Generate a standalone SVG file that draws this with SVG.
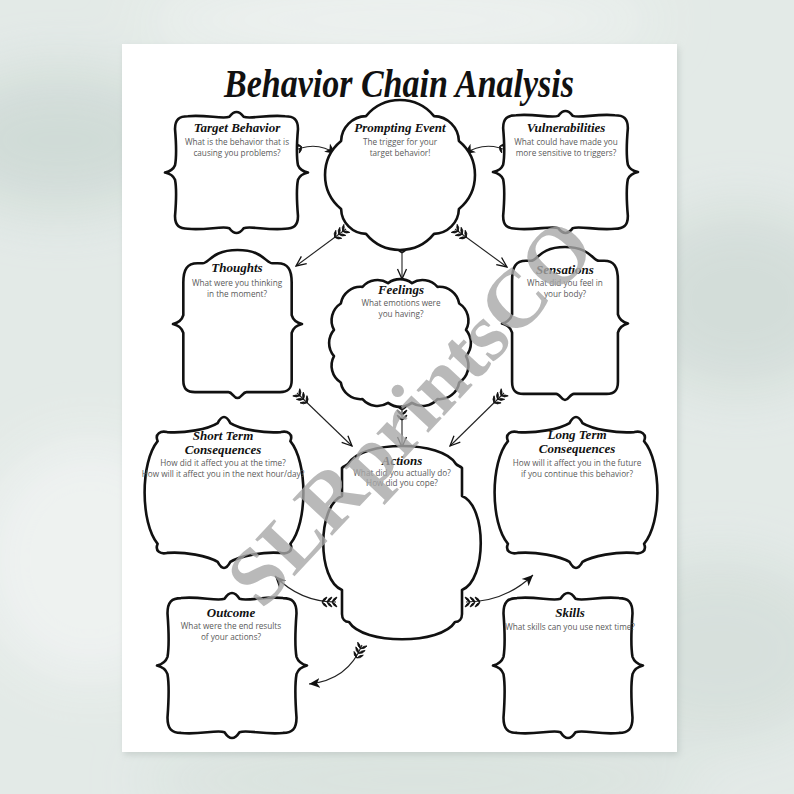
<svg xmlns="http://www.w3.org/2000/svg" width="794" height="794" viewBox="0 0 794 794">
<defs>
<style>
.ttl{font-family:"Liberation Serif","DejaVu Serif",serif;font-style:italic;font-weight:bold;font-size:13px;fill:#111;text-anchor:middle}
.sub{font-family:"Open Sans","Liberation Sans",sans-serif;font-size:8.2px;fill:#5a5a5a;text-anchor:middle}
.shape{fill:#fff;stroke:#111;stroke-width:2.6;stroke-linejoin:round}
.conn path{fill:none;stroke:#222;stroke-width:1.1}
</style>
<filter id="blur" x="-50%" y="-50%" width="200%" height="200%"><feGaussianBlur stdDeviation="28"/></filter>
<filter id="shadow" x="-5%" y="-5%" width="110%" height="110%"><feGaussianBlur stdDeviation="3"/></filter>
<path id="frameA" fill="#fff" stroke="#111" stroke-width="2.6" stroke-linejoin="round" vector-effect="non-scaling-stroke" d="M7,14 C7,6 10,3.5 16,3.5 C28,2 40,6 45,4 Q50,-4 55,4 C60,6 72,2 84,3.5 C90,3.5 93,6 93,14 C92,28 92,38 93,44 C94,47 96,49 100,50 C96,51 94,53 93,56 C92,62 92,72 93,86 C93,94 90,96.5 84,96.5 C72,98 60,94 55,96 Q50,104 45,96 C40,94 28,98 16,96.5 C10,96.5 7,94 7,86 C8,72 8,62 7,56 C6,53 4,51 0,50 C4,49 6,47 7,44 C8,38 8,28 7,14 Z"/>
<path id="frameT" fill="#fff" stroke="#111" stroke-width="2.6" stroke-linejoin="round" vector-effect="non-scaling-stroke" d="M8,22 C8,13 11,9 19,9 L23,9 C28,9 30,0 50,0 C70,0 72,9 77,9 L81,9 C89,9 92,13 92,22 L92,44 C93,47 95,49 100,50 C95,51 93,53 92,56 L92,88 C92,94 89,96 83,96 L57,96 C54,96 53,100 50,100 C47,100 46,96 43,96 L17,96 C11,96 8,94 8,88 L8,56 C7,53 5,51 0,50 C5,49 7,47 8,44 Z"/>
<path id="frameC" fill="#fff" stroke="#111" stroke-width="2.6" stroke-linejoin="round" vector-effect="non-scaling-stroke" d="M14,10 C25,11 40,8 46,4 Q50,-4 54,4 C60,8 75,11 86,10 C90,9 94,11 92,16 C103,30 103,70 92,84 C94,89 90,91 86,90 C75,89 60,92 54,96 Q50,104 46,96 C40,92 25,89 14,90 C10,91 6,89 8,84 C-3,70 -3,30 8,16 C6,11 10,9 14,10 Z"/>
<marker id="headOpen" viewBox="0 0 12 12" refX="11" refY="6" markerWidth="12" markerHeight="12" orient="auto" markerUnits="userSpaceOnUse">
<path d="M1,1.5 L11,6 L1,10.5" fill="none" stroke="#111" stroke-width="1.3"/>
</marker>
<marker id="headFill" viewBox="0 0 12 12" refX="11" refY="6" markerWidth="12" markerHeight="12" orient="auto" markerUnits="userSpaceOnUse">
<path d="M0,1 L11,6 L0,11 L3,6 Z" fill="#111"/>
</marker>
<marker id="fletch" viewBox="-6 -8 24 16" refX="0" refY="0" markerWidth="24" markerHeight="16" orient="auto" markerUnits="userSpaceOnUse">
<path d="M4,0 Q3,-4 -1,-5 Q0,-1.5 4,0 Z M4,0 Q3,4 -1,5 Q0,1.5 4,0 Z M9,0 Q8,-4 4,-5 Q5,-1.5 9,0 Z M9,0 Q8,4 4,5 Q5,1.5 9,0 Z M14,0 Q13,-4 9,-5 Q10,-1.5 14,0 Z M14,0 Q13,4 9,5 Q10,1.5 14,0 Z" fill="#111" stroke="#111" stroke-width="0.8"/>
</marker>
</defs>

<rect x="0" y="0" width="794" height="794" fill="#e3eae7"/>
<g filter="url(#blur)" opacity="0.9">
<ellipse cx="60" cy="140" rx="120" ry="70" fill="#cfdad6"/>
<ellipse cx="740" cy="300" rx="110" ry="90" fill="#d2dcd8"/>
<ellipse cx="90" cy="560" rx="110" ry="120" fill="#f0f3f2"/>
<ellipse cx="720" cy="650" rx="120" ry="90" fill="#d6dfdb"/>
<ellipse cx="400" cy="20" rx="260" ry="40" fill="#eef2f0"/>
<ellipse cx="420" cy="780" rx="280" ry="40" fill="#d8e1dd"/>
</g>
<rect x="124" y="47" width="555" height="708" fill="#9aa5a1" opacity="0.35" filter="url(#shadow)"/>
<rect x="122" y="44" width="555" height="708" fill="#ffffff"/>

<text x="399" y="97" font-family="Liberation Serif, DejaVu Serif, serif" font-style="italic" font-weight="bold" font-size="40" fill="#111" text-anchor="middle" textLength="350" lengthAdjust="spacingAndGlyphs">Behavior Chain Analysis</text>

<g id="connectors" class="conn">
<path d="M289,153 Q315,139 336,154" marker-start="url(#fletch)" marker-end="url(#headFill)"/>
<path d="M512,153 Q487,139 464,154" marker-start="url(#fletch)" marker-end="url(#headFill)"/>
<path d="M346,229 L296,266" marker-start="url(#fletch)" marker-end="url(#headOpen)"/>
<path d="M455,229 L507,267" marker-start="url(#fletch)" marker-end="url(#headOpen)"/>
<path d="M402,239 L402,279" marker-start="url(#fletch)" marker-end="url(#headOpen)"/>
<path d="M297,393 L352,446" marker-start="url(#fletch)" marker-end="url(#headOpen)"/>
<path d="M504,393 L450,446" marker-start="url(#fletch)" marker-end="url(#headOpen)"/>
<path d="M402,406 L402,447" marker-start="url(#fletch)" marker-end="url(#headOpen)"/>
<path d="M336,602 Q300,602 275,576" marker-start="url(#fletch)" marker-end="url(#headFill)"/>
<path d="M362,645 Q348,680 309,684" marker-start="url(#fletch)" marker-end="url(#headFill)"/>
<path d="M466,602 Q505,602 533,575" marker-start="url(#fletch)" marker-end="url(#headFill)"/>
</g>

<g id="target-behavior">
<use href="#frameA" transform="translate(165,112) scale(1.43,1.21)"/>
<text class="ttl" x="237" y="132">Target Behavior</text>
<text class="sub" x="237" y="145">What is the behavior that is</text>
<text class="sub" x="237" y="155.5">causing you problems?</text>
</g>

<g id="prompting-event">
<path class="shape" d="M458.9,141 A44 44 0 0 1 458.9,209 A25.6 25.6 0 0 1 434,233.9 A44 44 0 0 1 366,233.9 A25.6 25.6 0 0 1 341.1,209 A44 44 0 0 1 341.1,141 A25.6 25.6 0 0 1 366,116.1 A44 44 0 0 1 434,116.1 A25.6 25.6 0 0 1 458.9,141 Z"/>
<text class="ttl" x="400" y="132">Prompting Event</text>
<text class="sub" x="400" y="145">The trigger for your</text>
<text class="sub" x="400" y="156">target behavior!</text>
</g>

<g id="vulnerabilities">
<use href="#frameA" transform="translate(493,111) scale(1.45,1.22)"/>
<text class="ttl" x="566" y="132">Vulnerabilities</text>
<text class="sub" x="566" y="145">What could have made you</text>
<text class="sub" x="566" y="155.5">more sensitive to triggers?</text>
</g>

<g id="thoughts">
<use href="#frameT" transform="translate(173,250) scale(1.29,1.48)"/>
<text class="ttl" x="237" y="272">Thoughts</text>
<text class="sub" x="237" y="286">What were you thinking</text>
<text class="sub" x="237" y="296.5">in the moment?</text>
</g>

<g id="feelings">
<path class="shape" d="M466,329.9 A20 20 0 0 1 466,356.1 A20 20 0 0 1 459.2,382.5 A20 20 0 0 1 437.5,399.1 A20 20 0 0 1 411.9,402.9 A20 20 0 0 1 388.1,402.9 A20 20 0 0 1 362.5,399.1 A20 20 0 0 1 340.8,382.5 A20 20 0 0 1 334,356.1 A20 20 0 0 1 334,329.9 A20 20 0 0 1 340.8,303.5 A20 20 0 0 1 362.5,286.9 A20 20 0 0 1 388.1,283.1 A20 20 0 0 1 411.9,283.1 A20 20 0 0 1 437.5,286.9 A20 20 0 0 1 459.2,303.5 A20 20 0 0 1 466,329.9 Z"/>
<text class="ttl" x="401" y="294">Feelings</text>
<text class="sub" x="401" y="306">What emotions were</text>
<text class="sub" x="401" y="316.5">you having?</text>
</g>

<g id="sensations">
<use href="#frameT" transform="translate(502,247) scale(1.26,1.53)"/>
<text class="ttl" x="565" y="274">Sensations</text>
<text class="sub" x="565" y="286">What did you feel in</text>
<text class="sub" x="565" y="296.5">your body?</text>
</g>

<g id="short-term-consequences">
<use href="#frameC" transform="translate(145,417) scale(1.58,1.51)"/>
<text class="ttl" x="223" y="440">Short Term</text>
<text class="ttl" x="223" y="454">Consequences</text>
<text class="sub" x="223" y="466">How did it affect you at the time?</text>
<text class="sub" x="223" y="476.5">How will it affect you in the next hour/day?</text>
</g>

<g id="actions">
<path class="shape" d="M348,464 C362,440 442,440 456,464 C458,466 460,466 462,468 L462,496 C487,506 487,580 462,590 L462,614 C462,619 459,622 455,622 C441,645 363,645 349,622 C345,622 342,619 342,614 L342,590 C317,580 317,506 342,496 L342,468 C344,466 346,466 348,464 Z"/>
<text class="ttl" x="402" y="465">Actions</text>
<text class="sub" x="402" y="475.5">What did you actually do?</text>
<text class="sub" x="402" y="486">How did you cope?</text>
</g>

<g id="long-term-consequences">
<use href="#frameC" transform="translate(495,417) scale(1.62,1.51)"/>
<text class="ttl" x="577" y="439">Long Term</text>
<text class="ttl" x="577" y="453">Consequences</text>
<text class="sub" x="577" y="466">How will it affect you in the future</text>
<text class="sub" x="577" y="476.5">if you continue this behavior?</text>
</g>

<g id="outcome">
<use href="#frameA" transform="translate(157,593) scale(1.5,1.45)"/>
<text class="ttl" x="231" y="617">Outcome</text>
<text class="sub" x="231" y="629">What were the end results</text>
<text class="sub" x="231" y="640">of your actions?</text>
</g>

<g id="skills">
<use href="#frameA" transform="translate(493,593) scale(1.5,1.45)"/>
<text class="ttl" x="570" y="617">Skills</text>
<text class="sub" x="570" y="630">What skills can you use next time?</text>
</g>

<text x="410" y="412" transform="rotate(-47 410 412)" font-family="Liberation Serif, DejaVu Serif, serif" font-weight="bold" font-size="82" fill="#a8a8a8" fill-opacity="0.8" text-anchor="middle" dominant-baseline="central">SLRprintsCO</text>
</svg>
